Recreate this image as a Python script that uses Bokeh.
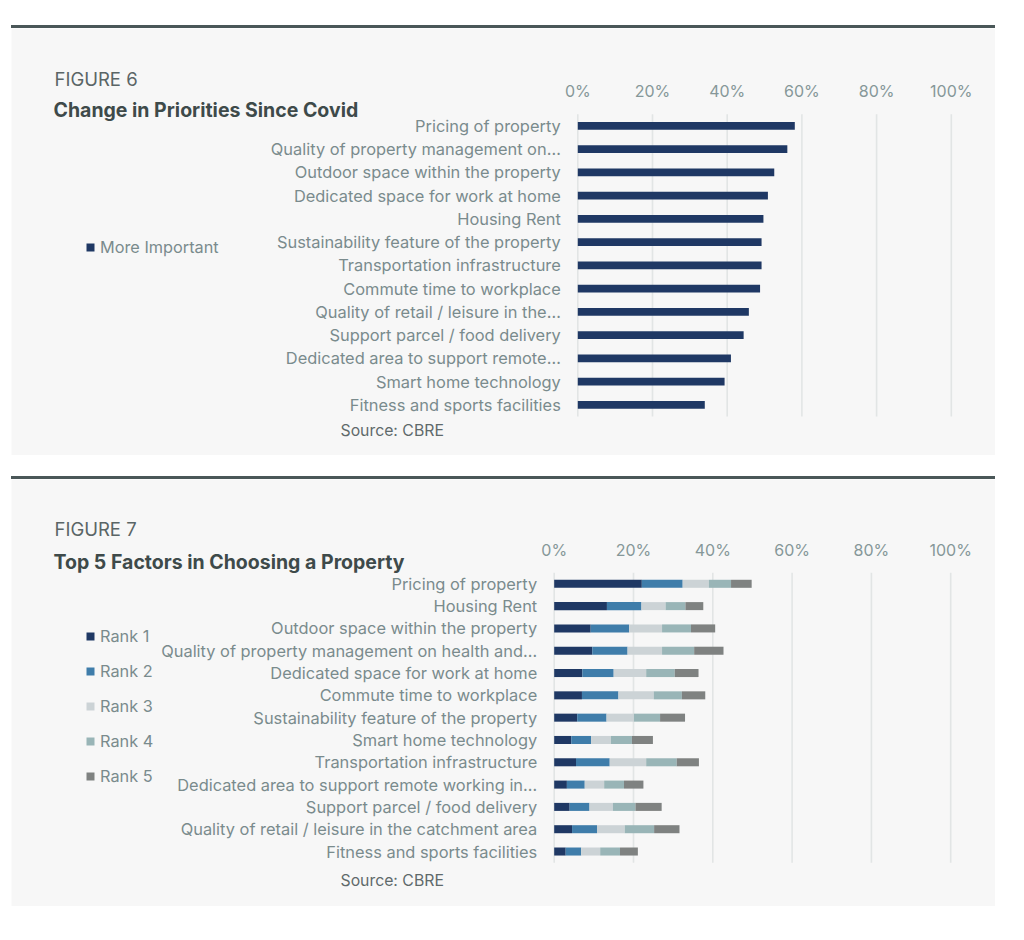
from bokeh.plotting import figure
from bokeh.models import (Range1d, Label, Legend, LegendItem, LinearAxis,
                          FixedTicker, ColumnDataSource, Spacer)
from bokeh.layouts import column
from bokeh.embed import file_html
from bokeh.resources import INLINE

FONT = "Inter"

# ---------------- data ----------------
f6_categories = [
    "Pricing of property",
    "Quality of property management on…",
    "Outdoor space within the property",
    "Dedicated space for work at home",
    "Housing Rent",
    "Sustainability feature of the property",
    "Transportation infrastructure",
    "Commute time to workplace",
    "Quality of retail / leisure in the…",
    "Support parcel / food delivery",
    "Dedicated area to support remote…",
    "Smart home technology",
    "Fitness and sports facilities",
]
f6_more_important = [58.1, 56.1, 52.6, 50.9, 49.7, 49.2, 49.2, 48.8, 45.8, 44.4, 41.0, 39.3, 34.0]

f7_categories = [
    "Pricing of property",
    "Housing Rent",
    "Outdoor space within the property",
    "Quality of property management on health and…",
    "Dedicated space for work at home",
    "Commute time to workplace",
    "Sustainability feature of the property",
    "Smart home technology",
    "Transportation infrastructure",
    "Dedicated area to support remote working in…",
    "Support parcel / food delivery",
    "Quality of retail / leisure in the catchment area",
    "Fitness and sports facilities",
]
f7_rank1 = [22.1, 13.3, 9.2, 9.6, 7.1, 7.0, 5.8, 4.3, 5.5, 3.2, 3.9, 4.5, 2.9]
f7_rank2 = [10.3, 8.7, 9.7, 8.9, 7.9, 9.2, 7.4, 5.0, 8.5, 4.5, 5.0, 6.3, 3.9]
f7_rank3 = [6.6, 6.1, 8.3, 8.7, 8.2, 8.9, 6.9, 5.0, 9.2, 4.9, 5.9, 7.0, 4.8]
f7_rank4 = [5.6, 5.0, 7.3, 8.1, 7.2, 7.1, 6.6, 5.3, 7.7, 5.0, 5.7, 7.4, 5.0]
f7_rank5 = [5.2, 4.5, 6.1, 7.4, 6.0, 5.9, 6.3, 5.3, 5.6, 4.9, 6.6, 6.4, 4.5]
rank_names = ["Rank 1", "Rank 2", "Rank 3", "Rank 4", "Rank 5"]

pct_ticks = [0, 20, 40, 60, 80, 100]
pct_labels = ["0%", "20%", "40%", "60%", "80%", "100%"]

# ---------------- styles ----------------
PANEL = "#F7F7F7"
RULE = "#4A5758"
NAVY = "#1F3864"
RANK_COLORS = ["#1F3864", "#3F7DAA", "#CCD3D6", "#99B5B7", "#7F8281"]
CAT_COLOR = "#7A8B8D"
TICK_COLOR = "#869799"
TITLE_COLOR = "#3E4A4A"
FIG_COLOR = "#5A6566"
SRC_COLOR = "#5F6A6B"
GRID = "#E2E5E5"

PANEL_W = 984
PANEL_H = 427
PANEL_LEFT = 11


def make_panel(categories, panel_top, zero_px, px_per_pct, top_row_px, row_px):
    """Panel whose frame covers the whole grey box; positions in px map to data."""
    n = len(categories)
    positions = list(range(n - 1, -1, -1))      # top category gets the highest value
    x0 = (PANEL_LEFT - zero_px) / px_per_pct
    x1 = (PANEL_LEFT + PANEL_W - zero_px) / px_per_pct
    top_val = n - 1
    y1 = top_val + (top_row_px - panel_top) / row_px
    y0 = top_val - (panel_top + PANEL_H - top_row_px) / row_px
    p = figure(output_backend="svg", toolbar_location=None,
               x_range=Range1d(x0, x1), y_range=Range1d(y0, y1),
               width=PANEL_W, height=PANEL_H,
               min_border_left=0, min_border_right=0, min_border_top=0, min_border_bottom=0,
               x_axis_location=None, y_axis_location=None)
    p.grid.visible = False
    p.outline_line_color = None
    p.background_fill_color = PANEL
    p.border_fill_color = PANEL

    # vertical gridlines over the bar region
    gsrc = ColumnDataSource(dict(t=pct_ticks))
    p.segment(x0="t", x1="t", y0=-0.5, y1=n - 0.5, source=gsrc,
              line_color=GRID, line_width=1.6)

    xa = LinearAxis(fixed_location=n - 0.5, ticker=FixedTicker(ticks=pct_ticks),
                    major_label_overrides={t: l for t, l in zip(pct_ticks, pct_labels)})
    ya = LinearAxis(fixed_location=0, ticker=FixedTicker(ticks=positions),
                    major_label_overrides={pos: c for pos, c in zip(positions, categories)})
    for ax in (xa, ya):
        ax.axis_line_color = None
        ax.major_tick_line_color = None
        ax.minor_tick_line_color = None
        ax.major_label_text_font = FONT
    xa.major_label_text_font_size = "16px"
    xa.major_label_text_color = TICK_COLOR
    xa.major_label_standoff = 7
    ya.major_label_text_font_size = "16.4px"
    ya.major_label_text_color = CAT_COLOR
    ya.major_label_standoff = 11
    p.add_layout(xa, "above")
    p.add_layout(ya, "left")

    def px2data(px, py):
        return ((px - zero_px) / px_per_pct, top_val - (py - top_row_px) / row_px)

    return p, positions, px2data


def add_text(p, px2data, text, px, py, size, color, bold=False):
    x, y = px2data(px, py)
    p.add_layout(Label(x=x, y=y, text=text, text_font=FONT, text_font_size=size,
                       text_color=color, text_align="left", text_baseline="middle",
                       text_font_style="bold" if bold else "normal"))


def make_legend(items, vx, vy):
    return Legend(items=items, location=(vx, vy),
                  glyph_width=10, glyph_height=10, label_standoff=5, padding=0, margin=0,
                  spacing=15, label_text_font=FONT, label_text_font_size="16.3px",
                  label_text_color=CAT_COLOR, border_line_color=None,
                  background_fill_alpha=0)


# ---------------- Figure 6 ----------------
F1_TOP = 28
p1, pos1, m1 = make_panel(f6_categories, F1_TOP, 577.3, 3.735, 125.3, 23.25)
src1 = ColumnDataSource(dict(pos=pos1, val=f6_more_important))
r1 = p1.hbar(y="pos", left=0, right="val", height=0.33, source=src1,
             fill_color=NAVY, line_color=None)
add_text(p1, m1, "FIGURE 6", 54, 78, "18.5px", FIG_COLOR)
add_text(p1, m1, "Change in Priorities Since Covid", 53, 109, "19.5px", TITLE_COLOR, bold=True)
add_text(p1, m1, "Source: CBRE", 340, 430, "15.8px", SRC_COLOR)
p1.add_layout(make_legend([LegendItem(label="More Important", renderers=[r1])],
                          85 - PANEL_LEFT, F1_TOP + PANEL_H - 257))

# ---------------- Figure 7 ----------------
F2_TOP = 479
p2, pos2, m2 = make_panel(f7_categories, F2_TOP, 553.7, 3.965, 583.3, 22.31)
src2 = ColumnDataSource(dict(pos=pos2, r1=f7_rank1, r2=f7_rank2,
                             r3=f7_rank3, r4=f7_rank4, r5=f7_rank5))
rs = p2.hbar_stack(["r1", "r2", "r3", "r4", "r5"], y="pos", height=0.36,
                   source=src2, fill_color=RANK_COLORS, line_color=None)
add_text(p2, m2, "FIGURE 7", 54, 528, "18.5px", FIG_COLOR)
add_text(p2, m2, "Top 5 Factors in Choosing a Property", 53, 561, "19.5px", TITLE_COLOR, bold=True)
add_text(p2, m2, "Source: CBRE", 340, 880, "15.8px", SRC_COLOR)
p2.add_layout(make_legend([LegendItem(label=nm, renderers=[r]) for nm, r in zip(rank_names, rs)],
                          85 - PANEL_LEFT, F2_TOP + PANEL_H - 786))

rule1 = Spacer(width=PANEL_W, height=3, styles={"background-color": RULE})
gap = Spacer(width=PANEL_W, height=21)
rule2 = Spacer(width=PANEL_W, height=3, styles={"background-color": RULE})

layout = column(rule1, p1, gap, rule2, p2, spacing=0, margin=(25, 0, 0, PANEL_LEFT))

open("out.html", "w").write(file_html(layout, INLINE))
